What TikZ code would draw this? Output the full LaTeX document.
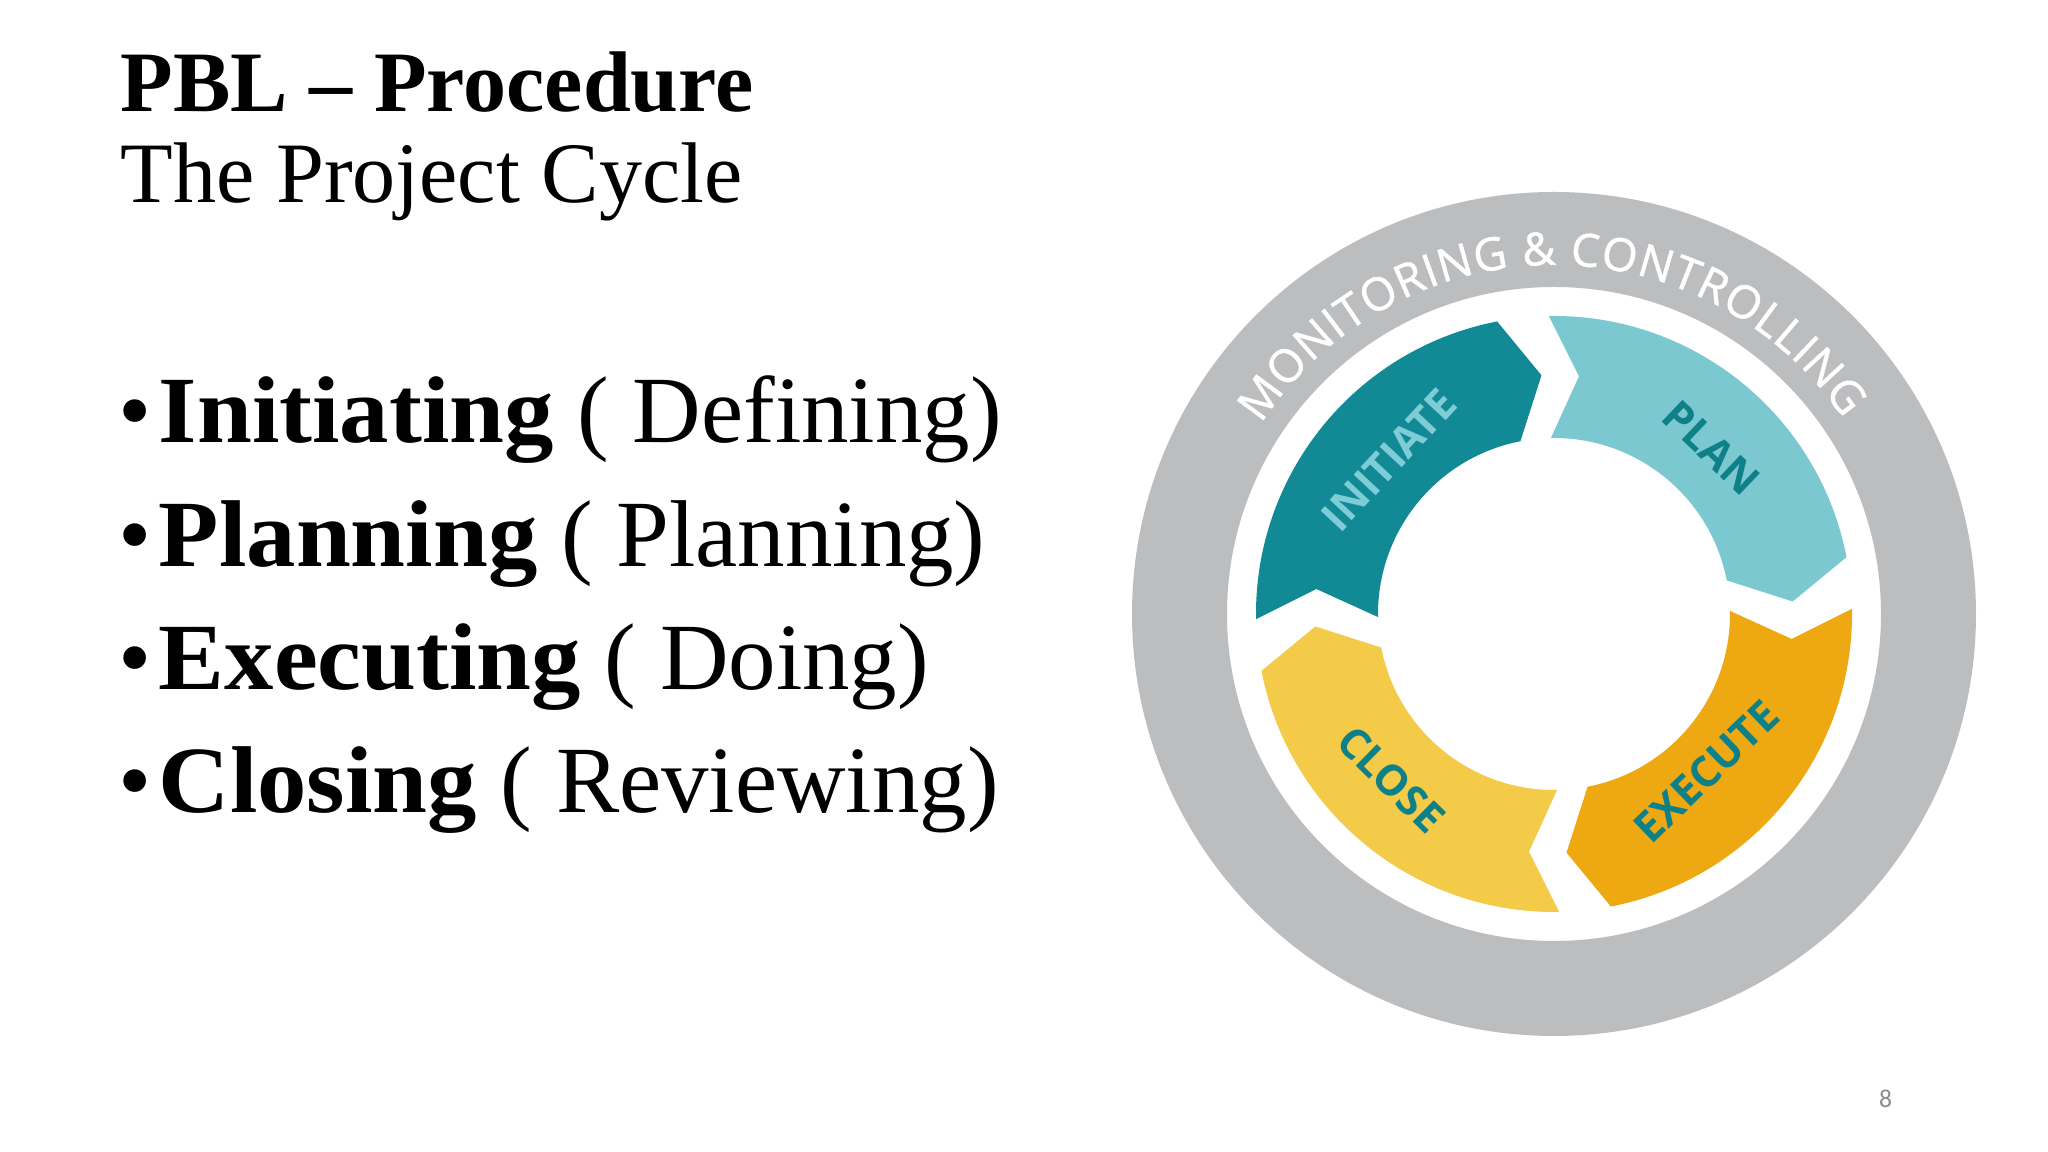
\documentclass[tikz,border=0pt]{standalone}
\usepackage{fontspec}
\setmainfont{Liberation Serif}
\newfontfamily\wordfont{Liberation Serif}[FakeStretch=1.04]
\newfontfamily\cyclefont{Open Sans}
\newfontfamily\ringfont{Open Sans}[FakeBold=1]
\newfontfamily\pagefont{Carlito}
\usetikzlibrary{positioning,decorations.text}
\definecolor{InitTeal}{RGB}{17,138,150}
\definecolor{PlanTeal}{RGB}{124,200,209}
\definecolor{ExecOrange}{RGB}{238,168,17}
\definecolor{CloseYellow}{RGB}{243,203,72}
\definecolor{RingGray}{RGB}{188,189,191}
\definecolor{LabelTeal}{RGB}{14,128,136}
\definecolor{InitLabel}{RGB}{126,205,214}
\definecolor{PageGray}{RGB}{140,140,140}

\begin{document}
\begin{tikzpicture}[
title/.style={anchor=base west,inner sep=0pt,font=\fontsize{24.5}{28}\selectfont\bfseries},
subtitle/.style={anchor=base west,inner sep=0pt,font=\fontsize{24.5}{28}\selectfont},
item/.style={anchor=base west,inner sep=0pt,font=\fontsize{27}{32}\selectfont},
phase/.style={inner sep=0pt,font=\cyclefont\fontsize{12}{12}\selectfont\bfseries,text=LabelTeal},
pagenum/.style={inner sep=0pt,font=\pagefont\fontsize{7.3}{8}\selectfont,text=PageGray}
]
\useasboundingbox (0,0) rectangle (20.48,11.52);
\fill[white] (0,0) rectangle (20.48,11.52);

% heading
\node[title] (head) at (1.20,10.40) {PBL – Procedure};
\node[subtitle,below=0.91cm of head.base west,anchor=base west] (sub) {The Project Cycle};

% phases list
\node[item] (initiating) at (1.18,7.09) {\textbullet\hspace{2pt}{\wordfont\bfseries Initiating} ( Defining)};
\node[item,below=1.233cm of initiating.base west,anchor=base west] (planning) {\textbullet\hspace{2pt}{\wordfont\bfseries Planning} ( Planning)};
\node[item,below=1.233cm of planning.base west,anchor=base west] (executing) {\textbullet\hspace{2pt}{\wordfont\bfseries Executing} ( Doing)};
\node[item,below=1.233cm of executing.base west,anchor=base west] (closing) {\textbullet\hspace{2pt}{\wordfont\bfseries Closing} ( Reviewing)};

% cycle
\begin{scope}[shift={(15.54,5.38)}]
\fill[RingGray,even odd rule] (0,0) circle (4.22) (0,0) circle (3.27);
\path[decorate,decoration={text along path,text={|\ringfont\fontsize{13}{13}\selectfont|MONITORING {\&} CONTROLLING},text color=white,text align={fit to path}}]
  (147:3.49) arc[start angle=147,end angle=34,radius=3.49];
\fill[InitTeal] (181:2.98) arc[start angle=181,end angle=101,radius=2.98] -- (93:2.39) -- (101:1.76)
  arc[start angle=101,end angle=181,radius=1.76] -- (174:2.39) -- cycle;
\fill[PlanTeal] (91:2.98) arc[start angle=91,end angle=11,radius=2.98] -- (3:2.39) -- (11:1.76)
  arc[start angle=11,end angle=91,radius=1.76] -- (84:2.39) -- cycle;
\fill[ExecOrange] (1:2.98) arc[start angle=1,end angle=-79,radius=2.98] -- (-87:2.39) -- (-79:1.76)
  arc[start angle=-79,end angle=1,radius=1.76] -- (-6:2.39) -- cycle;
\fill[CloseYellow] (-89:2.98) arc[start angle=-89,end angle=-169,radius=2.98] -- (-177:2.39) -- (-169:1.76)
  arc[start angle=-169,end angle=-89,radius=1.76] -- (-96:2.39) -- cycle;
\node[phase,text=InitLabel,rotate=47] (initiate) at (137:2.26) {INITIATE};
\node[phase,rotate=-43.5] (plan) at (46.5:2.29) {PLAN};
\node[phase,rotate=44] (execute) at (-46:2.19) {EXECUTE};
\node[phase,rotate=-44.5] (close) at (-134.5:2.32) {CLOSE};
\end{scope}

\node[pagenum] (page) at (18.855,0.53) {8};
\end{tikzpicture}
\end{document}
